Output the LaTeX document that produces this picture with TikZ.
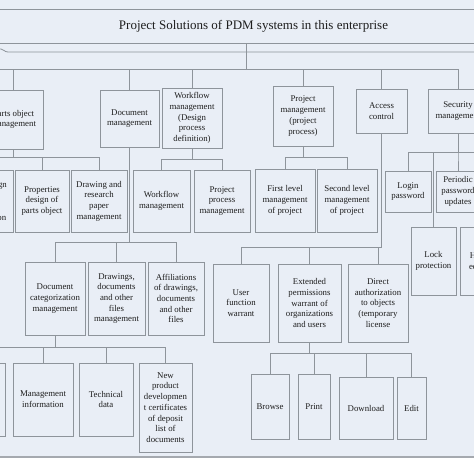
\documentclass[tikz,border=0pt]{standalone}
\usepackage{fontspec}
\setmainfont{Liberation Serif}
\definecolor{bgc}{HTML}{E9EEF6}
\definecolor{linec}{HTML}{8E949B}
\definecolor{textc}{HTML}{1E1E1E}
\newcommand{\bxfont}{\fontsize{8.8}{10.7}\selectfont}
\newcommand{\bx}[6]{\node[bx,minimum width={(#4)-(#2)},minimum height={(#5)-(#3)}] (#1) at ({((#2)+(#4))/2},{((#3)+(#5))/2}) {#6};}
\tikzset{
  bx/.style={draw=linec,fill=bgc,line width=0.7pt,inner sep=0pt,outer sep=0pt,align=center,font=\bxfont,text=textc},
  conn/.style={draw=linec,line width=0.7pt},
  frame/.style={draw=linec,line width=0.8pt}
}
\begin{document}
\begin{tikzpicture}[x=1pt,y=-1pt]
\useasboundingbox (0,0) rectangle (474,474);
\clip (0,0) rectangle (474,474);
\fill[white] (-10,-10) rectangle (484,484);
\fill[bgc] (-10,-10) rectangle (484,457);
\draw[draw=linec!80,line width=1.4pt] (-10,457) -- (484,457);
% frame lines
\draw[frame] (-10,9) -- (484,9);
\draw[frame] (-10,43) -- (484,43);
\draw[frame] (-10,49) -- (1,49) .. controls (4,49) and (4,52) .. (8,52) -- (484,52);
\node[font=\fontsize{13}{15}\selectfont,text=textc,inner sep=0pt] (title) at (253.5,26) {Project Solutions of PDM systems in this enterprise};
\coordinate (top) at (246,43);
\coordinate (busW) at (-60,69);
\coordinate (busE) at (540,152);
% level 1
\bx{parts}{-16}{90}{43}{149}{Parts object\\management}
\bx{doc}{100}{90}{159}{147}{Document\\management}
\bx{wf}{162}{88}{222}{148}{Workflow\\management\\(Design\\process\\definition)}
\bx{pm}{273}{86}{333}{146}{Project\\management\\(project\\process)}
\bx{ac}{356}{89}{407}{133}{Access\\control}
\bx{sec}{428}{89}{488}{133}{Security\\management}
% parts children
\bx{pd}{-42}{170}{13}{232}{Parts design\\of\\parts\\information}
\bx{prop}{15}{170}{69}{232}{Properties\\design of\\parts object}
\bx{drw}{71}{170}{127}{232}{Drawing and\\research\\paper\\management}
% workflow children
\bx{wfm}{133}{170}{190}{232}{Workflow\\management}
\bx{ppm}{194}{170}{250}{232}{Project\\process\\management}
% project children
\bx{fl}{255}{169}{315}{232}{First level\\management\\of project}
\bx{sl}{317}{169}{377}{232}{Second level\\management\\of project}
% security children
\bx{login}{385}{171}{431}{212}{Login\\password}
\bx{per}{436}{171}{480}{212}{Periodic\\password\\updates}
\bx{lock}{411}{227}{456}{295}{Lock\\protection}
\bx{hist}{460}{227}{506}{295}{History\\editions}
% access children
\bx{uf}{213}{264}{269}{342}{User\\function\\warrant}
\bx{ext}{278}{264}{341}{342}{Extended\\permissions\\warrant of\\organizations\\and users}
\bx{dir}{348}{264}{408}{342}{Direct\\authorization\\to objects\\(temporary\\license}
% extended children
\bx{br}{251}{374}{289}{439}{Browse}
\bx{pr}{298}{374}{330}{439}{Print}
\bx{dl}{339}{377}{393}{439}{Download}
\bx{ed}{397}{377}{426}{439}{Edit}
% document children
\bx{dc}{25}{262}{85}{335}{Document\\categorization\\management}
\bx{dd}{88}{262}{145}{335}{Drawings,\\documents\\and other\\files\\management}
\bx{af}{148}{262}{204}{335}{Affiliations\\of drawings,\\documents\\and other\\files}
% categorization children
\bx{cx}{-55}{363}{5}{436}{}
\bx{mi}{13}{363}{73}{436}{Management\\information}
\bx{td}{79}{363}{133}{436}{Technical\\data}
\bx{np}{139}{363}{192}{452}{New\\product\\developmen\\t certificates\\of deposit\\list of\\documents}
% connectors
\draw[conn] (top) -- ++(0,26) -- (busW);
\foreach \n in {parts,doc,wf,pm,ac,sec} \draw[conn] (top) -- ++(0,26) -| (\n.north);
\foreach \n in {pd,prop,drw} \draw[conn] (parts.south) -- ++(0,8) -| (\n.north);
\foreach \n in {wfm,ppm} \draw[conn] (wf.south) -- ++(0,11) -| (\n.north);
\foreach \n in {fl,sl} \draw[conn] (pm.south) -- ++(0,11) -| (\n.north);
\draw[conn] (sec.south) -- ++(0,19) -- (busE);
\foreach \n in {login,per,lock} \draw[conn] (sec.south) -- ++(0,19) -| (\n.north);
\foreach \n in {uf,ext,dir} \draw[conn] (ac.south) -- ++(0,114) -| (\n.north);
\foreach \n in {br,pr,dl,ed} \draw[conn] (ext.south) -- ++(0,11) -| (\n.north);
\foreach \n in {dc,dd,af} \draw[conn] (doc.south) -- ++(0,95) -| (\n.north);
\foreach \n in {cx,mi,td,np} \draw[conn] (dc.south) -- ++(0,12) -| (\n.north);
\end{tikzpicture}
\end{document}
